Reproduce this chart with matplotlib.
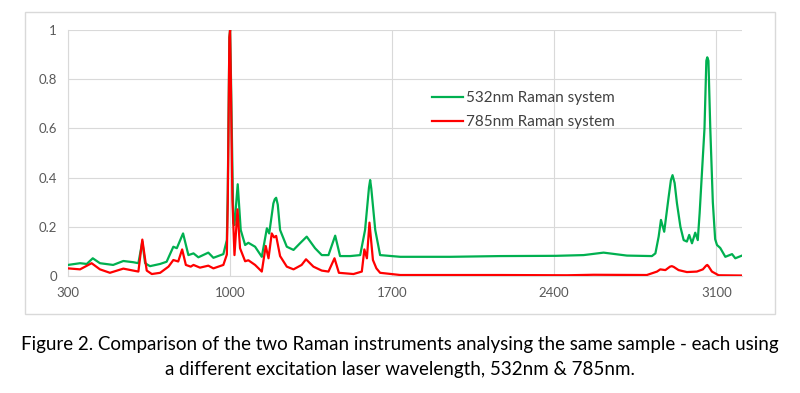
import matplotlib.pyplot as plt
from matplotlib.patches import Rectangle

# Raman shift (cm-1) and normalised intensity
green_x = [300, 352, 381, 407, 438, 495, 539, 582, 604, 621, 633, 654, 698, 726,
           755, 770, 791, 797, 803, 820, 842, 863, 906, 928, 971, 986, 990, 997,
           1000, 1004, 1010, 1014, 1019, 1033, 1046, 1065, 1079, 1108, 1137, 1159,
           1169, 1187, 1193, 1199, 1206, 1216, 1245, 1274, 1302, 1331, 1367, 1396,
           1425, 1454, 1475, 1519, 1562, 1583, 1600, 1605, 1610, 1627, 1648, 1735,
           1951, 2167, 2407, 2527, 2613, 2714, 2822, 2837, 2851, 2861, 2875, 2894,
           2904, 2911, 2920, 2930, 2945, 2959, 2973, 2983, 2995, 3009, 3020, 3028,
           3038, 3049, 3057, 3061, 3066, 3074, 3085, 3095, 3103, 3117, 3139, 3168,
           3182, 3211]
green_y = [0.045, 0.052, 0.049, 0.072, 0.052, 0.045, 0.061, 0.056, 0.052, 0.140,
           0.052, 0.040, 0.049, 0.058, 0.119, 0.113, 0.160, 0.173, 0.150, 0.085,
           0.092, 0.076, 0.095, 0.074, 0.089, 0.146, 0.337, 0.97, 1.0, 0.80,
           0.444, 0.215, 0.207, 0.373, 0.187, 0.126, 0.135, 0.119, 0.078, 0.194,
           0.173, 0.295, 0.312, 0.318, 0.290, 0.187, 0.119, 0.106, 0.133, 0.160,
           0.113, 0.085, 0.085, 0.164, 0.081, 0.081, 0.085, 0.187, 0.360, 0.390,
           0.355, 0.187, 0.085, 0.078, 0.078, 0.081, 0.082, 0.085, 0.095, 0.083,
           0.081, 0.092, 0.160, 0.228, 0.180, 0.320, 0.390, 0.410, 0.378, 0.296,
           0.200, 0.146, 0.140, 0.167, 0.133, 0.176, 0.146, 0.255, 0.420, 0.600,
           0.875, 0.889, 0.875, 0.600, 0.300, 0.150, 0.126, 0.114, 0.078, 0.089,
           0.072, 0.083]

red_x = [300, 352, 402, 438, 481, 539, 582, 604, 621, 640, 662, 698, 734, 755,
         776, 793, 809, 830, 842, 870, 906, 928, 971, 986, 990, 997, 1000, 1004,
         1010, 1019, 1032, 1043, 1065, 1079, 1108, 1137, 1154, 1166, 1180, 1190,
         1199, 1216, 1245, 1274, 1309, 1328, 1360, 1396, 1425, 1451, 1470, 1533,
         1569, 1580, 1591, 1602, 1617, 1632, 1648, 1735, 2167, 2455, 2570, 2800,
         2844, 2858, 2880, 2900, 2908, 2916, 2937, 2973, 3016, 3042, 3056, 3061,
         3066, 3081, 3110, 3211]
red_y = [0.031, 0.027, 0.052, 0.027, 0.013, 0.030, 0.022, 0.018, 0.148, 0.022,
         0.008, 0.013, 0.038, 0.065, 0.059, 0.108, 0.045, 0.038, 0.045, 0.034,
         0.042, 0.031, 0.045, 0.087, 0.30, 0.97, 1.0, 0.75, 0.310, 0.085, 0.271,
         0.113, 0.060, 0.064, 0.045, 0.018, 0.122, 0.072, 0.173, 0.157, 0.163,
         0.081, 0.038, 0.027, 0.045, 0.068, 0.038, 0.022, 0.018, 0.072, 0.013,
         0.008, 0.018, 0.108, 0.072, 0.217, 0.065, 0.031, 0.013, 0.004, 0.004,
         0.003, 0.005, 0.004, 0.018, 0.027, 0.024, 0.038, 0.040, 0.037, 0.024,
         0.016, 0.018, 0.027, 0.042, 0.045, 0.040, 0.018, 0.003, 0.002]

x_ticks = [300, 1000, 1700, 2400, 3100]
y_ticks = [0, 0.2, 0.4, 0.6, 0.8, 1]
y_labels = ['0', '0.2', '0.4', '0.6', '0.8', '1']
labels = ['532nm Raman system', '785nm Raman system']
caption = ('Figure 2. Comparison of the two Raman instruments analysing the same sample - each using\n'
           'a different excitation laser wavelength, 532nm & 785nm.')

plt.rcParams['font.family'] = ['Lato', 'DejaVu Sans']

fig = plt.figure(figsize=(8, 3.93), dpi=100)
# chart border
fig.patches.append(Rectangle((25 / 800, 1 - 314 / 393), 750 / 800, 302 / 393,
                             transform=fig.transFigure, fill=False,
                             edgecolor='#d9d9d9', linewidth=1))
ax = fig.add_axes([68 / 800, 1 - 276 / 393, 674 / 800, 246 / 393])

ax.plot(green_x, green_y, color='#00B050', lw=1.6, label=labels[0], zorder=3)
ax.plot(red_x, red_y, color='#FF0000', lw=1.6, label=labels[1], zorder=3)

ax.set_xlim(300, 3211)
ax.set_ylim(0, 1)
ax.set_xticks(x_ticks)
ax.set_yticks(y_ticks)
ax.set_yticklabels(y_labels)
ax.grid(True, color='#d9d9d9', lw=0.8)
ax.tick_params(length=0, colors='#595959', labelsize=9.5, pad=8)
for side in ['top', 'right']:
    ax.spines[side].set_visible(False)
ax.spines['left'].set_color('#d9d9d9')
ax.spines['bottom'].set_color('#d9d9d9')

leg = ax.legend(loc='upper left', bbox_to_anchor=(0.54, 0.75), frameon=False,
                fontsize=11, handlelength=2.0, handletextpad=0.25,
                labelspacing=0.62, borderpad=0, borderaxespad=0)
for t in leg.get_texts():
    t.set_color('#404040')

fig.text(0.5, 1 - 357 / 393, caption, ha='center', va='center', fontsize=13.5,
         color='#000000', linespacing=1.55)

fig.savefig('out.png', dpi=100)
